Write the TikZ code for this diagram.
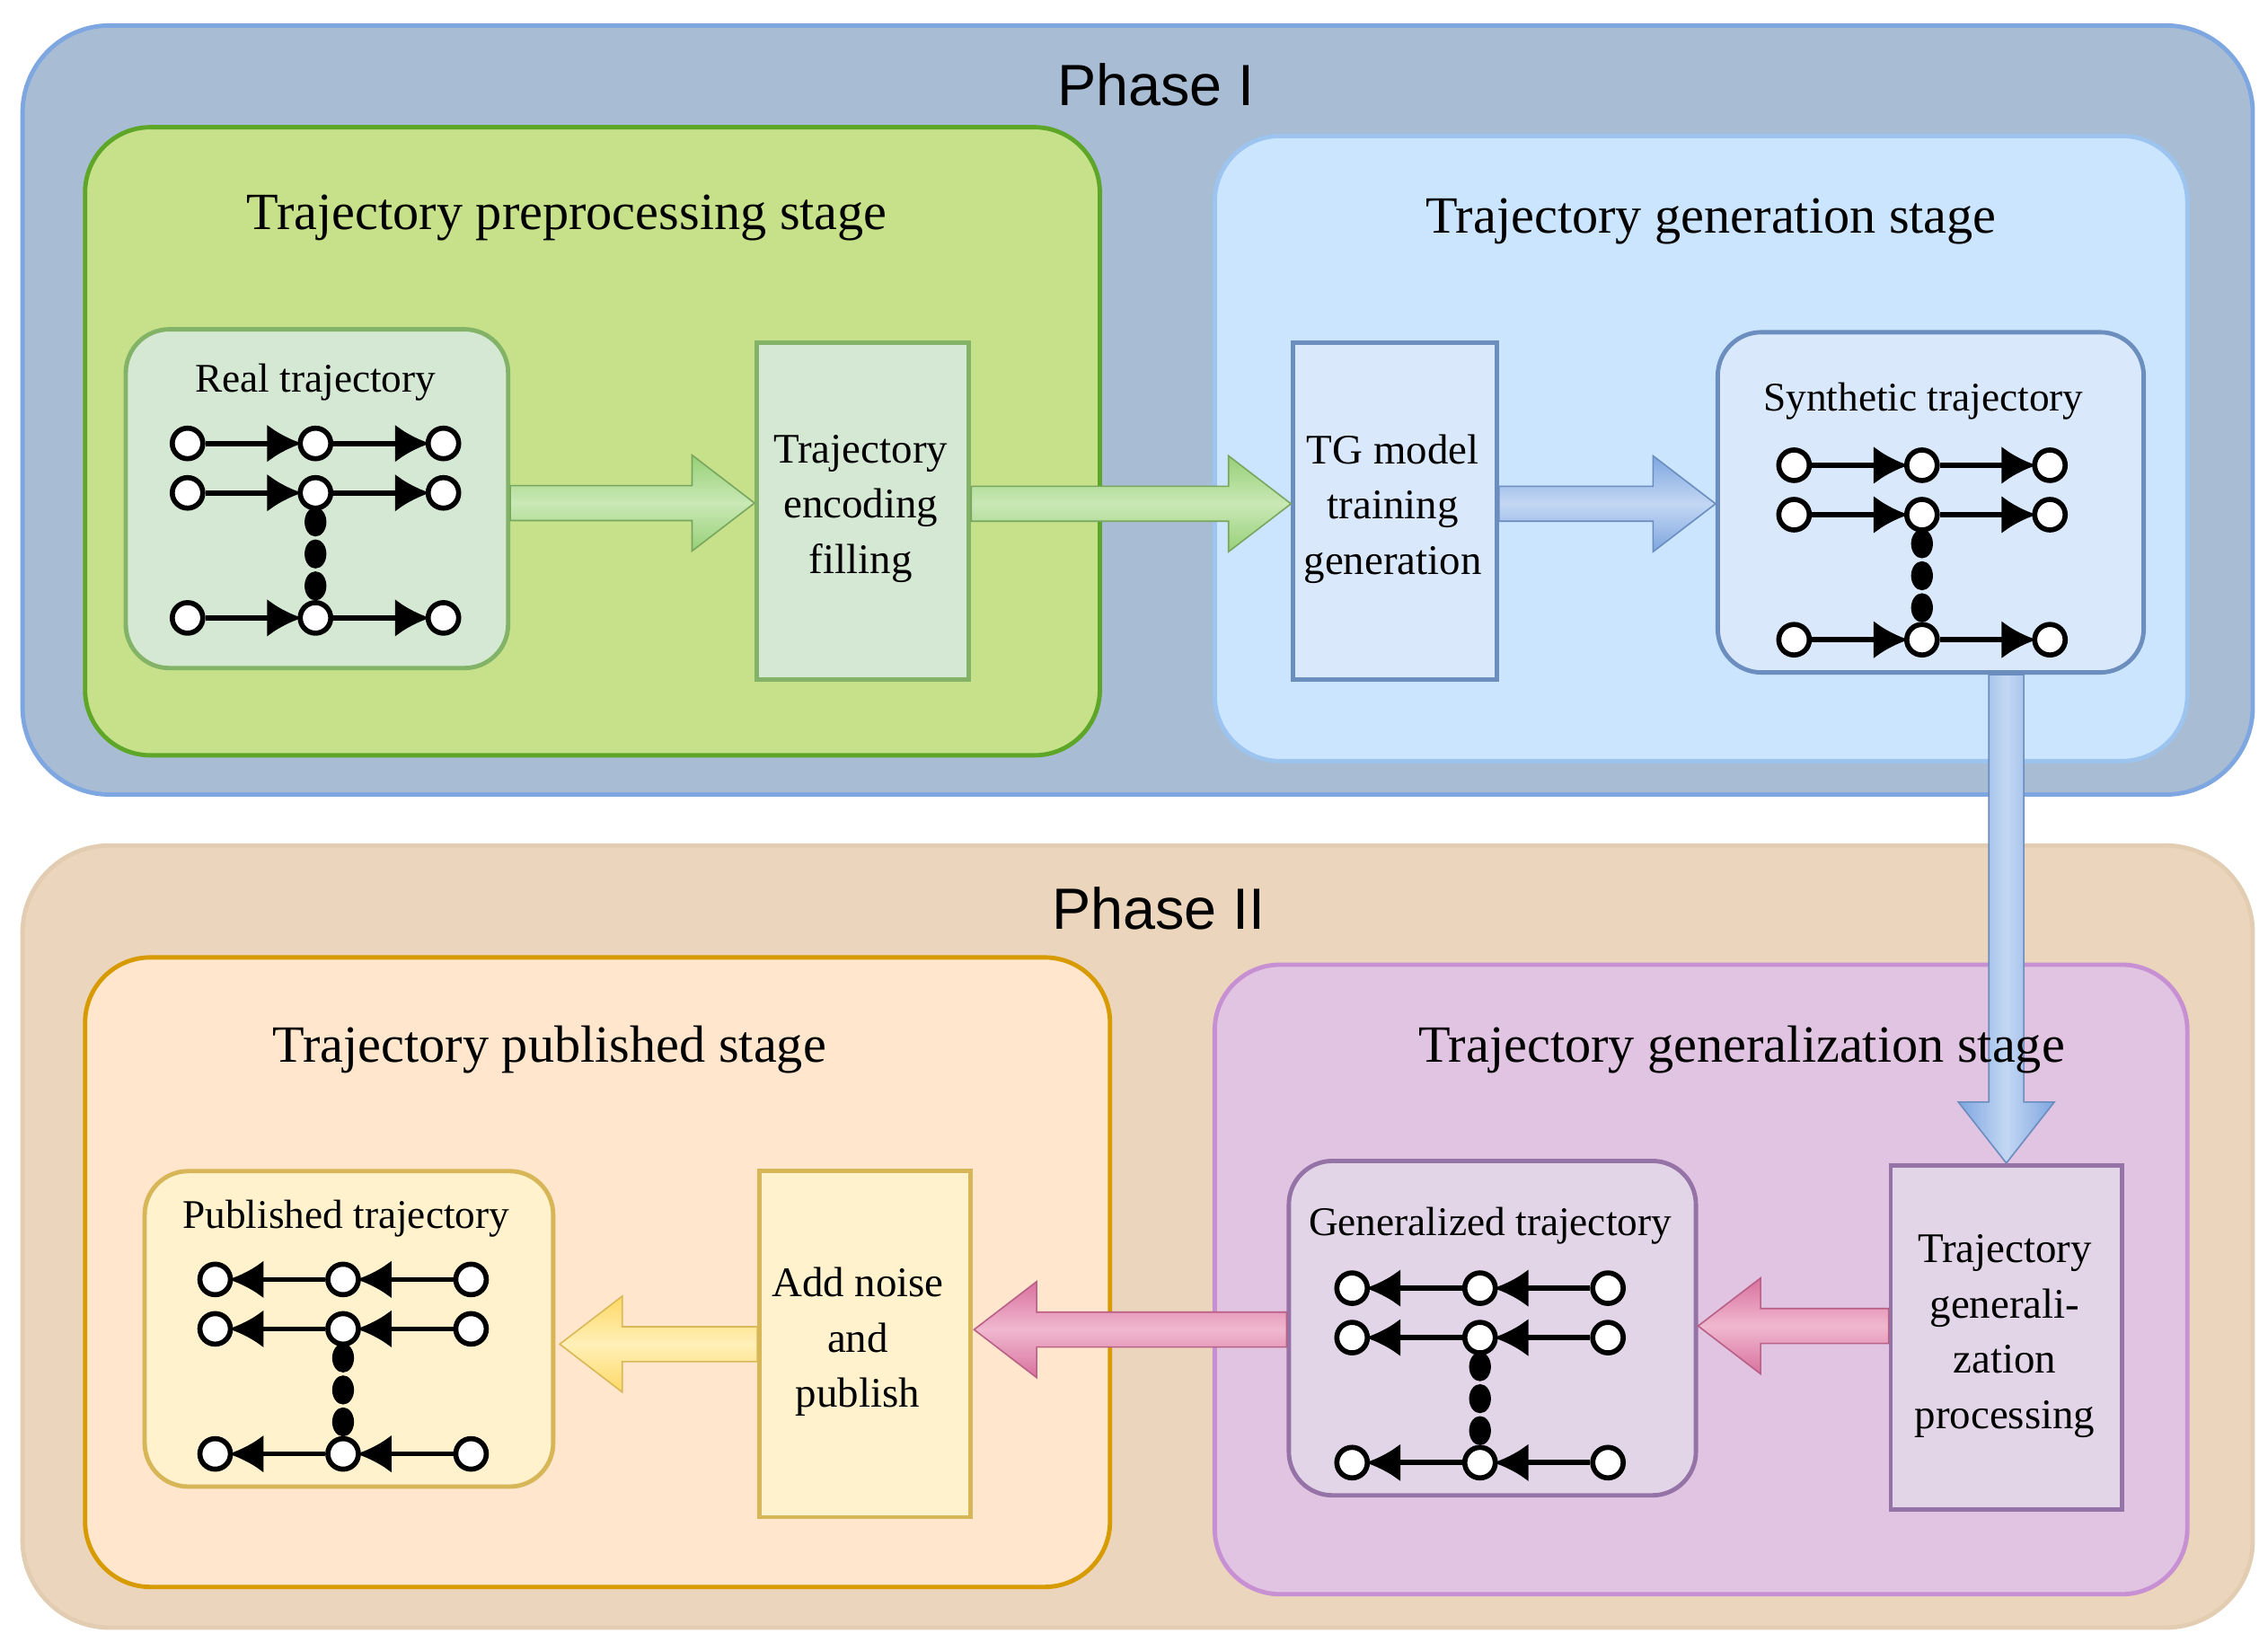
\documentclass[tikz,border=0pt]{standalone}
\usepackage{fontspec}
\setmainfont{Liberation Serif}
\setsansfont{Liberation Sans}
\usetikzlibrary{calc,arrows.meta,shapes.geometric}
\definecolor{pIf}{HTML}{A8BDD4}\definecolor{pId}{HTML}{7EA6E0}
\definecolor{pIIf}{HTML}{EBD5BC}\definecolor{pIId}{HTML}{E2CCB2}
\definecolor{gf}{HTML}{C6E18A}\definecolor{gd}{HTML}{5EA628}
\definecolor{gif}{HTML}{D5E8D4}\definecolor{gid}{HTML}{82B366}
\definecolor{bf}{HTML}{CCE5FF}\definecolor{bd}{HTML}{9DC3EF}
\definecolor{bif}{HTML}{DAE8FC}\definecolor{bid}{HTML}{6C8EBF}
\definecolor{of}{HTML}{FFE6CC}\definecolor{od}{HTML}{D79B00}
\definecolor{yif}{HTML}{FFF2CC}\definecolor{yid}{HTML}{D6B656}
\definecolor{uf}{HTML}{E1C4E2}\definecolor{ud}{HTML}{C790D2}
\definecolor{uif}{HTML}{E1D5E7}\definecolor{uid}{HTML}{9673A6}
\definecolor{pk}{HTML}{D9719E}\definecolor{pkl}{HTML}{F0B8CF}
\definecolor{ag}{HTML}{97D077}\definecolor{agl}{HTML}{C9E8B5}
\definecolor{ab}{HTML}{7EA6E0}\definecolor{abl}{HTML}{C3D7F3}
\definecolor{ay}{HTML}{FFD966}\definecolor{ayl}{HTML}{FFF0B8}
\tikzset{
 box/.style={draw,line width=3pt,rounded corners=#1},
 lbl/.style={font=\fontsize{36}{40}\selectfont,inner sep=0pt},
 sml/.style={font=\fontsize{29}{38}\selectfont,inner sep=0pt,align=center},
 ph/.style={font=\sffamily\fontsize{40}{44}\selectfont,inner sep=0pt},
 tn/.style={circle,draw,line width=3.5pt,fill=white,minimum size=21pt,inner sep=0pt},
 te/.style={line width=3.5pt,-{Latex[length=24pt,width=26pt]},shorten >=-3pt},
 dt/.style={ellipse,fill=black,minimum width=15pt,minimum height=20pt,inner sep=0pt},
}
\newcommand\trajicon[4]{%
 \foreach \r/\dy in {a/0,b/34,c/120}{
  \node[tn] (#1\r1) at (#2-88,#3+\dy) {};
  \node[tn] (#1\r2) at (#2,#3+\dy) {};
  \node[tn] (#1\r3) at (#2+88,#3+\dy) {};
  \ifnum#4=1
   \draw[te] (#1\r1) -- (#1\r2); \draw[te] (#1\r2) -- (#1\r3);
  \else
   \draw[te] (#1\r3) -- (#1\r2); \draw[te] (#1\r2) -- (#1\r1);
  \fi}
 \node[dt] (#1d1) at (#2,#3+54) {};
 \node[dt] (#1d2) at (#2,#3+76) {};
 \node[dt] (#1d3) at (#2,#3+98) {};
}
\newcommand\harrow[3]{%
 \path[#1] let \p1=#2, \p2=#3, \n1={ifthenelse(\x2>\x1,1,-1)} in
  (\x1,\y1+12) -- (\x2-\n1*43,\y1+12) -- (\x2-\n1*43,\y1+33) -- (\x2,\y1)
  -- (\x2-\n1*43,\y1-33) -- (\x2-\n1*43,\y1-12) -- (\x1,\y1-12) -- cycle;}
\begin{document}
\begin{tikzpicture}[x=1pt,y=-1pt]
\useasboundingbox (0,0) rectangle (1560,1129);
\node[box=60pt,fill=pIf,draw=pId,minimum width=1534pt,minimum height=529pt,anchor=north west] (p1) at (14,16) {};
\node[ph] (p1t) at (795,58) {Phase I};
\node[box=60pt,fill=pIIf,draw=pIId,minimum width=1534pt,minimum height=538pt,anchor=north west] (p2) at (14,580) {};
\node[ph] (p2t) at (797,625) {Phase II};
\node[box=45pt,fill=gf,draw=gd,minimum width=698pt,minimum height=432pt,anchor=north west] (s1) at (57,86) {};
\node[lbl] (s1t) at (390,150) {Trajectory preprocessing stage};
\node[box=45pt,fill=bf,draw=bd,minimum width=669pt,minimum height=430pt,anchor=north west] (s2) at (834,92) {};
\node[lbl] (s2t) at (1177,152) {Trajectory generation stage};
\node[box=45pt,fill=of,draw=od,minimum width=705pt,minimum height=433pt,anchor=north west] (s3) at (57,657) {};
\node[lbl] (s3t) at (378,722) {Trajectory published stage};
\node[box=45pt,fill=uf,draw=ud,minimum width=669pt,minimum height=433pt,anchor=north west] (s4) at (834,662) {};
\node[box=30pt,fill=gif,draw=gid,minimum width=263pt,minimum height=233pt,anchor=north west] (rt) at (85,225) {};
\node[sml,font=\fontsize{28}{30}\selectfont] (rtt) at (217,263) {Real trajectory};
\trajicon{r}{217}{305}{1}
\node[draw=gid,line width=3pt,fill=gif,minimum width=146pt,minimum height=232pt,anchor=north west] (enc) at (519,234) {};
\node[sml] at (592,350) {Trajectory\\encoding\\filling};
\node[draw=bid,line width=3pt,fill=bif,minimum width=140pt,minimum height=232pt,anchor=north west] (tg) at (888,234) {};
\node[sml] at (958,350) {TG model\\training\\generation};
\node[box=30pt,fill=bif,draw=bid,minimum width=293pt,minimum height=234pt,anchor=north west] (st) at (1180,227) {};
\node[sml,font=\fontsize{28}{30}\selectfont] (stt) at (1323,276) {Synthetic trajectory};
\trajicon{s}{1322}{320}{1}
\node[draw=uid,line width=3pt,fill=uif,minimum width=159pt,minimum height=237pt,anchor=north west] (gp) at (1299,800) {};
\node[sml] at (1379,919) {Trajectory\\generali-\\zation\\processing};
\node[box=30pt,fill=uif,draw=uid,minimum width=280pt,minimum height=230pt,anchor=north west] (gt) at (885,797) {};
\node[sml,font=\fontsize{28}{30}\selectfont] (gtt) at (1025,843) {Generalized trajectory};
\trajicon{g}{1018}{886}{-1}
\node[draw=yid,line width=3pt,fill=yif,minimum width=145pt,minimum height=238pt,anchor=north west] (an) at (521,804) {};
\node[sml] at (590,923) {Add noise\\and\\publish};
\node[box=30pt,fill=yif,draw=yid,minimum width=281pt,minimum height=217pt,anchor=north west] (pt) at (98,804) {};
\node[sml,font=\fontsize{28}{30}\selectfont] (ptt) at (238,838) {Published trajectory};
\trajicon{q}{236}{880}{-1}
\tikzset{ga/.style={draw=ag!80!black,line width=1pt,top color=ag,bottom color=ag,middle color=agl},
 ba/.style={draw=ab!85!black,line width=1pt,top color=ab,bottom color=ab,middle color=abl},
 pa/.style={draw=pk!85!black,line width=1pt,top color=pk,bottom color=pk,middle color=pkl},
 ya/.style={draw=ay!85!black,line width=1pt,top color=ay,bottom color=ay,middle color=ayl}}
\harrow{ga}{($(rt.east)+(0,3)$)}{($(enc.west)+(0,-5)$)}
\harrow{ga}{($(enc.east)+(0,-5)$)}{($(tg.west)+(0,-5)$)}
\harrow{ba}{($(tg.east)+(0,-5)$)}{($(st.west)+(0,1)$)}
\harrow{pa}{($(gp.west)+(0,-8)$)}{($(gt.east)+(0,-2)$)}
\harrow{pa}{($(gt.west)+(0,1)$)}{($(an.west)+(149,-10)$)}
\harrow{ya}{($(an.west)$)}{($(pt.east)+(3,10)$)}
\path[draw=ab!85!black,line width=1pt,left color=ab,right color=ab,middle color=abl]
 let \p1=(st.south), \p2=(gp.north) in
 (1368,\y1) -- (1368,\y2+42) -- (1347,\y2+42) -- (1380,\y2) -- (1413,\y2+42) -- (1392,\y2+42) -- (1392,\y1) -- cycle;
\node[lbl] (s4t) at (1198,722) {Trajectory generalization stage};
\end{tikzpicture}
\end{document}
